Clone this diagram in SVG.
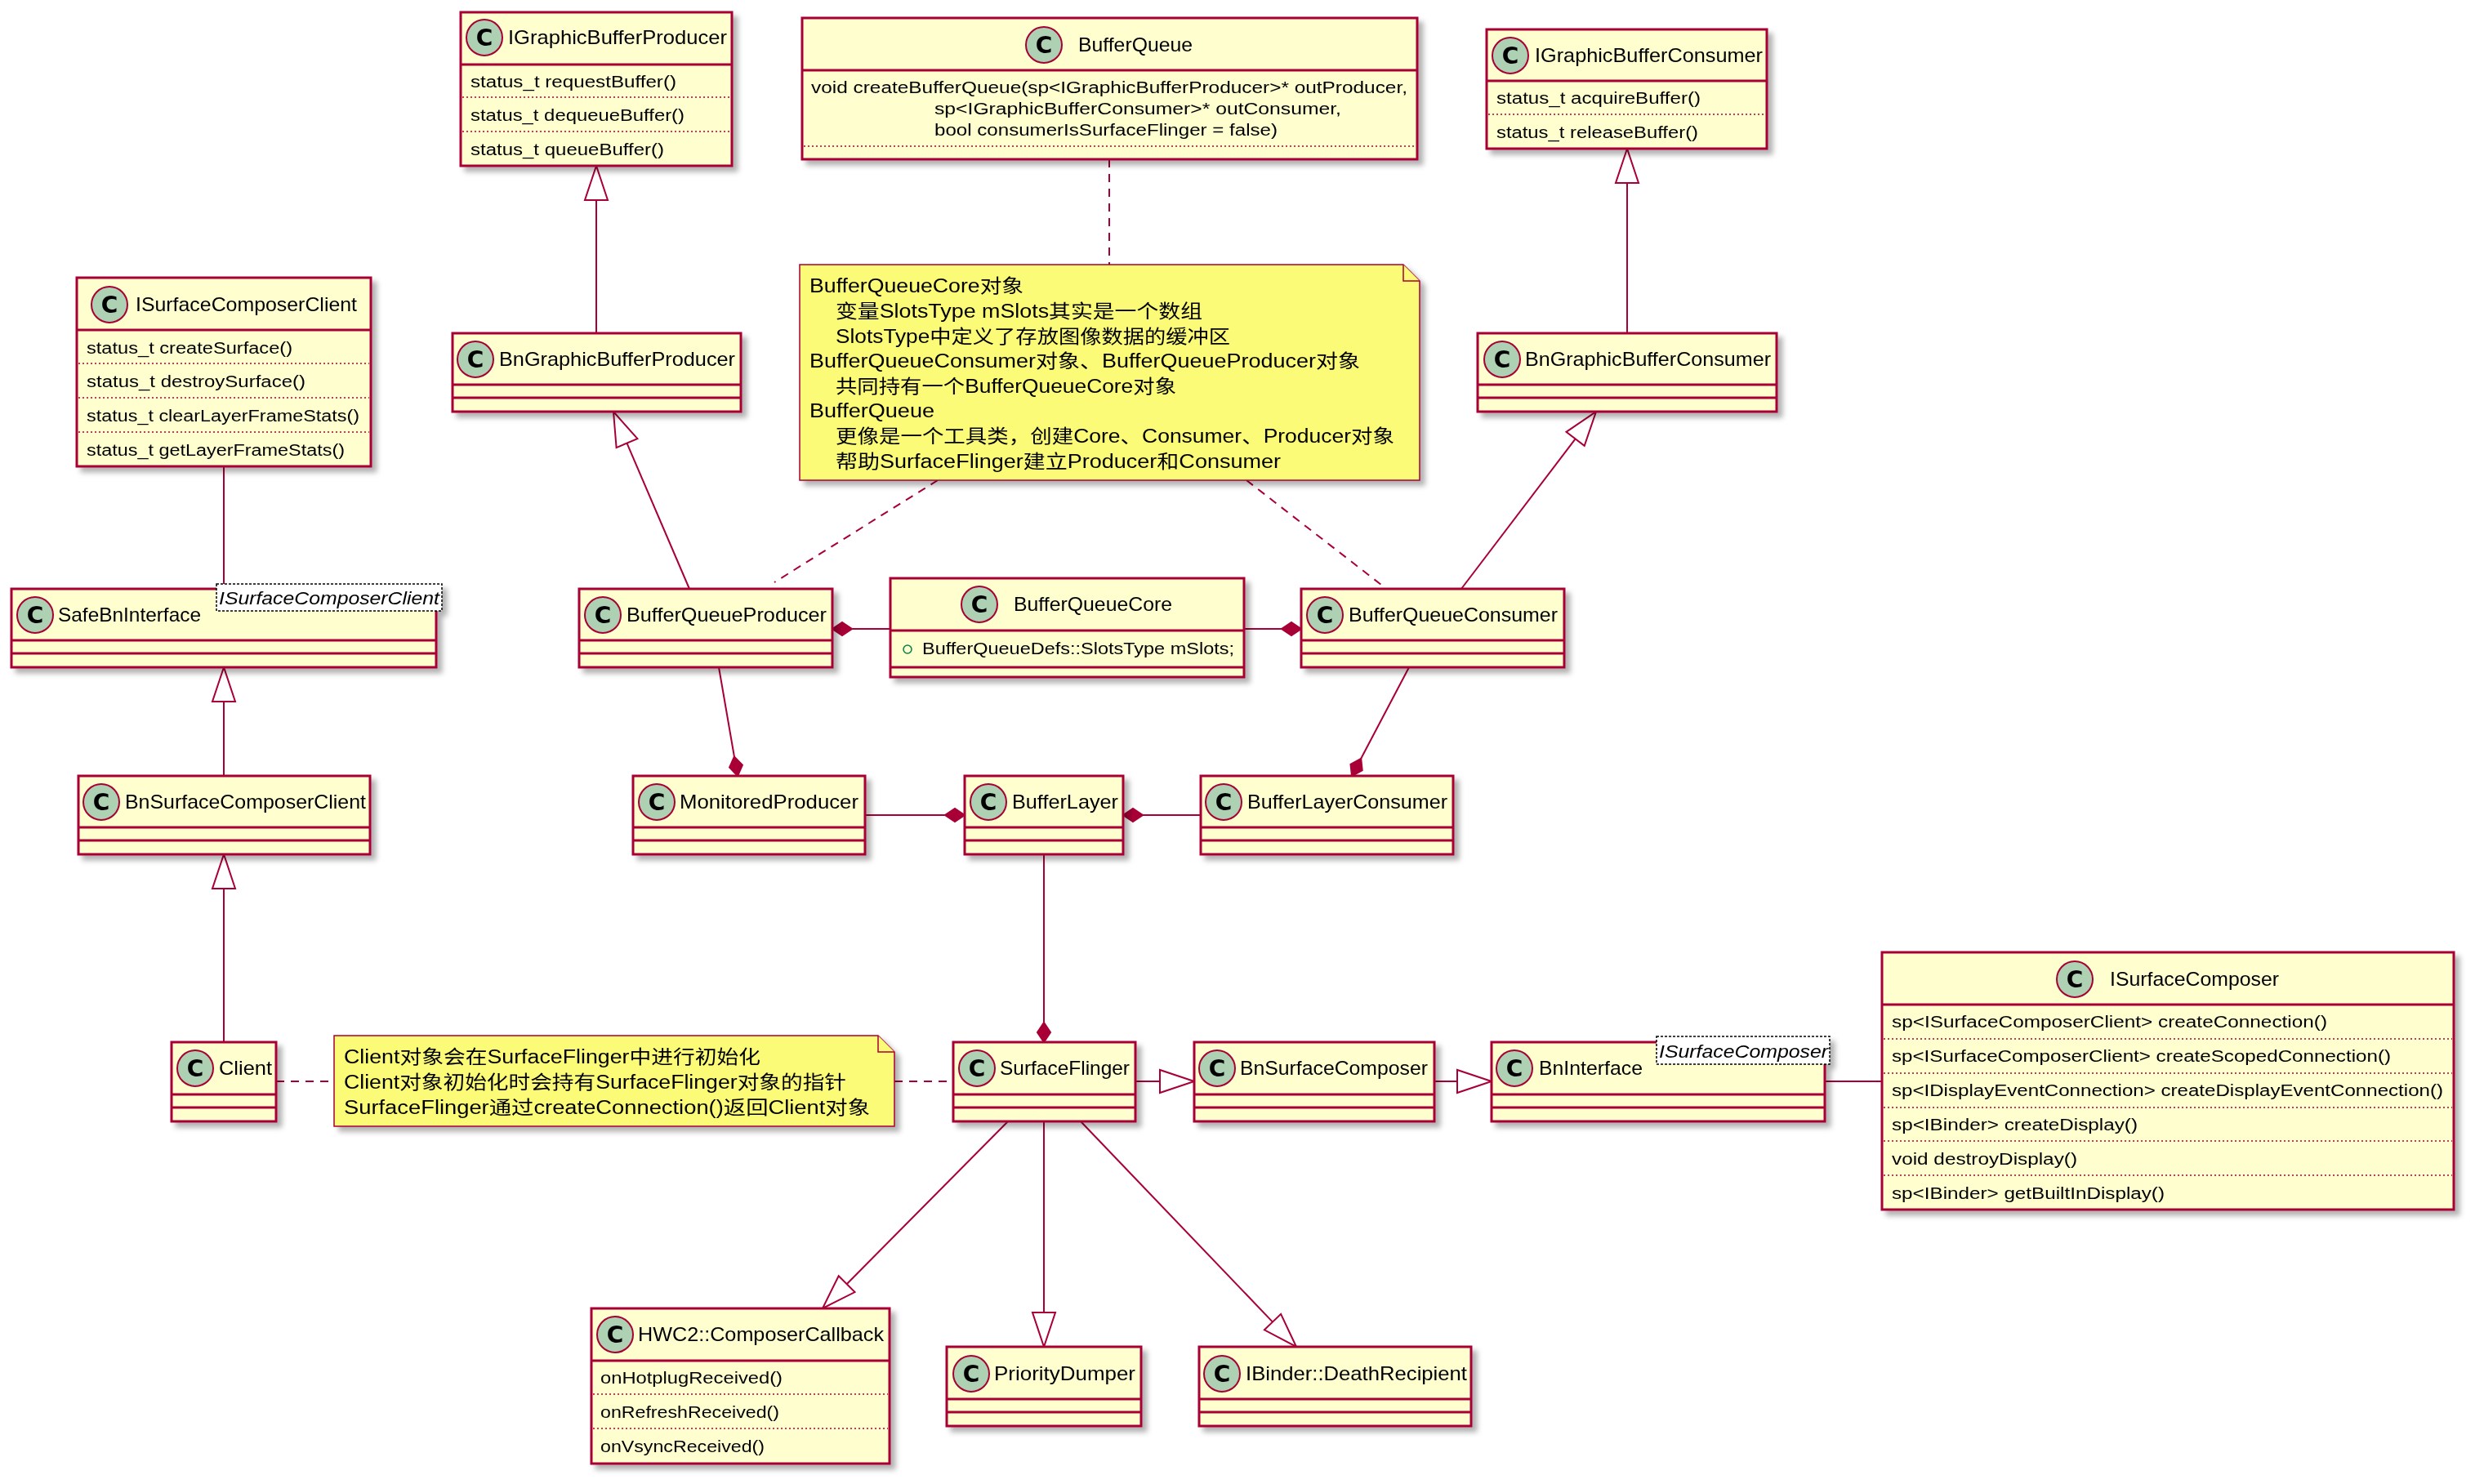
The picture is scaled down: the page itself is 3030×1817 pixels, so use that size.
<svg xmlns="http://www.w3.org/2000/svg" width="3030" height="1817" viewBox="0 0 3030 1817">
<style>
.b{fill:#FEFECE;stroke:#A80036;stroke-width:3}
.s{stroke:#A80036;stroke-width:3;fill:none}
.d{stroke:#A80036;stroke-width:1.5;stroke-dasharray:2 3;fill:none}
.c{fill:#ADD1B2;stroke:#A80036;stroke-width:2}
.cl{font-family:"DejaVu Sans",sans-serif;font-weight:bold;font-size:28px;text-anchor:middle;fill:#000}
.t{font-family:"Liberation Sans","Noto Sans CJK SC",sans-serif;font-size:24px;fill:#000}
.m{font-family:"Liberation Sans","Noto Sans CJK SC",sans-serif;font-size:20px;fill:#000}
.i{font-family:"Liberation Sans",sans-serif;font-style:italic;font-size:22px;fill:#000}
.tp{fill:#fff;stroke:#000;stroke-width:1.5;stroke-dasharray:3 2}
.n{fill:#FBFB77;stroke:#A80036;stroke-width:1.5}
.nt{font-family:"Liberation Sans","Noto Sans CJK SC",sans-serif;font-size:23px;fill:#000}
.l{stroke:#A80036;stroke-width:2;fill:none}
.dl{stroke:#A80036;stroke-width:2;fill:none;stroke-dasharray:10 8}
.tri{fill:#fff;stroke:#A80036;stroke-width:2}
.dia{fill:#A80036;stroke:#A80036;stroke-width:2}
</style>
<defs>
<filter id="sh" x="-5%" y="-5%" width="115%" height="120%"><feDropShadow dx="6" dy="6" stdDeviation="3" flood-color="#000" flood-opacity="0.3"/></filter>
</defs>
<g id="connectors">
<line class="l" x1="274" y1="571" x2="274" y2="715"/>
<line class="l" x1="730" y1="245" x2="730" y2="408"/><polygon class="tri" points="730,203 716,245 744,245"/>
<line class="l" x1="1992" y1="224" x2="1992" y2="408"/><polygon class="tri" points="1992,182 1978,224 2006,224"/>
<line class="l" x1="767.5" y1="542.6" x2="844" y2="721"/><polygon class="tri" points="751,504 754.6,548.1 780.4,537.1"/>
<line class="l" x1="1928.6" y1="537.4" x2="1789" y2="721"/><polygon class="tri" points="1954,504 1939.7,545.9 1917.5,528.9"/>
<line class="l" x1="274" y1="859" x2="274" y2="950"/><polygon class="tri" points="274,817 260,859 288,859"/>
<line class="l" x1="274" y1="1088" x2="274" y2="1276"/><polygon class="tri" points="274,1046 260,1088 288,1088"/>
<line class="l" x1="1390" y1="1324" x2="1420" y2="1324"/><polygon class="tri" points="1462,1324 1420,1310 1420,1338"/>
<line class="l" x1="1755" y1="1324" x2="1784" y2="1324"/><polygon class="tri" points="1826,1324 1784,1310 1784,1338"/>
<line class="l" x1="1234" y1="1373" x2="1036.6" y2="1572.2"/><polygon class="tri" points="1007,1602 1046.5,1582.1 1026.7,1562.3"/>
<line class="l" x1="1278" y1="1373" x2="1278" y2="1607"/><polygon class="tri" points="1278,1649 1264,1607 1292,1607"/>
<line class="l" x1="1323" y1="1373" x2="1558" y2="1618.6"/><polygon class="tri" points="1587,1649 1568.1,1608.9 1547.9,1628.3"/>
<line class="l" x1="1019" y1="770" x2="1090" y2="770"/><polygon class="dia" points="1019,770 1031,762 1043,770 1031,778"/>
<line class="l" x1="1523" y1="770" x2="1593" y2="770"/><polygon class="dia" points="1593,770 1581,762 1569,770 1581,778"/>
<line class="l" x1="880" y1="817" x2="903" y2="950"/><polygon class="dia" points="903,950 908.9,936.8 898.9,926.4 893.1,939.6"/>
<line class="l" x1="1059" y1="998" x2="1181" y2="998"/><polygon class="dia" points="1181,998 1169,990 1157,998 1169,1006"/>
<line class="l" x1="1375" y1="998" x2="1470" y2="998"/><polygon class="dia" points="1375,998 1387,990 1399,998 1387,1006"/>
<line class="l" x1="1725" y1="817" x2="1655" y2="950"/><polygon class="dia" points="1655,950 1667.7,943.1 1666.2,928.8 1653.5,935.7"/>
<line class="l" x1="1278" y1="1046" x2="1278" y2="1276"/><polygon class="dia" points="1278,1276 1270,1264 1278,1252 1286,1264"/>
<line class="l" x1="2234" y1="1324" x2="2304" y2="1324"/>
<line class="dl" x1="1358" y1="195" x2="1358" y2="324"/>
<line class="dl" x1="1148" y1="588" x2="948" y2="713"/>
<line class="dl" x1="1526" y1="588" x2="1691" y2="716"/>
<line class="dl" x1="338" y1="1324" x2="409" y2="1324"/>
<line class="dl" x1="1095" y1="1324" x2="1167" y2="1324"/>
</g>
<g id="IGraphicBufferProducer" filter="url(#sh)">
<rect class="b" x="564" y="15" width="332" height="188"/><line class="s" x1="564" y1="79" x2="896" y2="79"/>
<line class="d" x1="566" y1="119" x2="894" y2="119"/><line class="d" x1="566" y1="161" x2="894" y2="161"/>
<circle class="c" cx="593" cy="46" r="22"/><text class="cl" x="593" y="56">C</text>
<text class="t" x="622" y="54" textLength="268" lengthAdjust="spacingAndGlyphs">IGraphicBufferProducer</text>
<text class="m" x="576" y="107" textLength="252" lengthAdjust="spacingAndGlyphs">status_t requestBuffer()</text>
<text class="m" x="576" y="148" textLength="262" lengthAdjust="spacingAndGlyphs">status_t dequeueBuffer()</text>
<text class="m" x="576" y="190" textLength="237" lengthAdjust="spacingAndGlyphs">status_t queueBuffer()</text>
</g>
<g id="BufferQueue" filter="url(#sh)">
<rect class="b" x="982" y="22" width="753" height="173"/><line class="s" x1="982" y1="86" x2="1735" y2="86"/>
<line class="d" x1="984" y1="179" x2="1733" y2="179"/>
<circle class="c" cx="1278" cy="55" r="22"/><text class="cl" x="1278" y="65">C</text>
<text class="t" x="1320" y="63" textLength="140" lengthAdjust="spacingAndGlyphs">BufferQueue</text>
<text class="m" x="993" y="114" textLength="730" lengthAdjust="spacingAndGlyphs">void createBufferQueue(sp&lt;IGraphicBufferProducer&gt;* outProducer,</text>
<text class="m" x="1144" y="140" textLength="498" lengthAdjust="spacingAndGlyphs">sp&lt;IGraphicBufferConsumer&gt;* outConsumer,</text>
<text class="m" x="1144" y="166" textLength="420" lengthAdjust="spacingAndGlyphs">bool consumerIsSurfaceFlinger = false)</text>
</g>
<g id="IGraphicBufferConsumer" filter="url(#sh)">
<rect class="b" x="1820" y="36" width="343" height="146"/><line class="s" x1="1820" y1="99" x2="2163" y2="99"/>
<line class="d" x1="1822" y1="140" x2="2161" y2="140"/>
<circle class="c" cx="1849" cy="68" r="22"/><text class="cl" x="1849" y="78">C</text>
<text class="t" x="1879" y="76" textLength="279" lengthAdjust="spacingAndGlyphs">IGraphicBufferConsumer</text>
<text class="m" x="1832" y="127" textLength="250" lengthAdjust="spacingAndGlyphs">status_t acquireBuffer()</text>
<text class="m" x="1832" y="169" textLength="247" lengthAdjust="spacingAndGlyphs">status_t releaseBuffer()</text>
</g>
<g id="ISurfaceComposerClient" filter="url(#sh)">
<rect class="b" x="94" y="340" width="360" height="231"/><line class="s" x1="94" y1="404" x2="454" y2="404"/>
<line class="d" x1="96" y1="445" x2="452" y2="445"/><line class="d" x1="96" y1="487" x2="452" y2="487"/><line class="d" x1="96" y1="529" x2="452" y2="529"/>
<circle class="c" cx="134" cy="373" r="22"/><text class="cl" x="134" y="383">C</text>
<text class="t" x="166" y="381" textLength="271" lengthAdjust="spacingAndGlyphs">ISurfaceComposerClient</text>
<text class="m" x="106" y="433" textLength="252" lengthAdjust="spacingAndGlyphs">status_t createSurface()</text>
<text class="m" x="106" y="474" textLength="268" lengthAdjust="spacingAndGlyphs">status_t destroySurface()</text>
<text class="m" x="106" y="516" textLength="334" lengthAdjust="spacingAndGlyphs">status_t clearLayerFrameStats()</text>
<text class="m" x="106" y="558" textLength="316" lengthAdjust="spacingAndGlyphs">status_t getLayerFrameStats()</text>
</g>
<g id="BnGraphicBufferProducer" filter="url(#sh)">
<rect class="b" x="554" y="408" width="353" height="96"/><line class="s" x1="554" y1="471" x2="907" y2="471"/><line class="s" x1="554" y1="487" x2="907" y2="487"/>
<circle class="c" cx="582" cy="440" r="22"/><text class="cl" x="582" y="450">C</text>
<text class="t" x="611" y="448" textLength="289" lengthAdjust="spacingAndGlyphs">BnGraphicBufferProducer</text>
</g>
<g id="BnGraphicBufferConsumer" filter="url(#sh)">
<rect class="b" x="1809" y="408" width="366" height="96"/><line class="s" x1="1809" y1="471" x2="2175" y2="471"/><line class="s" x1="1809" y1="487" x2="2175" y2="487"/>
<circle class="c" cx="1839" cy="440" r="22"/><text class="cl" x="1839" y="450">C</text>
<text class="t" x="1867" y="448" textLength="301" lengthAdjust="spacingAndGlyphs">BnGraphicBufferConsumer</text>
</g>
<g id="note1" filter="url(#sh)">
<path class="n" d="M979,324 H1718 L1738,344 V588 H979 Z"/><path class="n" d="M1718,324 V344 H1738"/>
<text class="nt" x="991" y="358" textLength="262" lengthAdjust="spacingAndGlyphs">BufferQueueCore对象</text>
<text class="nt" x="1023" y="389" textLength="449" lengthAdjust="spacingAndGlyphs">变量SlotsType mSlots其实是一个数组</text>
<text class="nt" x="1023" y="420" textLength="483" lengthAdjust="spacingAndGlyphs">SlotsType中定义了存放图像数据的缓冲区</text>
<text class="nt" x="991" y="450" textLength="674" lengthAdjust="spacingAndGlyphs">BufferQueueConsumer对象、BufferQueueProducer对象</text>
<text class="nt" x="1023" y="481" textLength="417" lengthAdjust="spacingAndGlyphs">共同持有一个BufferQueueCore对象</text>
<text class="nt" x="991" y="511" textLength="153" lengthAdjust="spacingAndGlyphs">BufferQueue</text>
<text class="nt" x="1023" y="542" textLength="684" lengthAdjust="spacingAndGlyphs">更像是一个工具类，创建Core、Consumer、Producer对象</text>
<text class="nt" x="1023" y="573" textLength="545" lengthAdjust="spacingAndGlyphs">帮助SurfaceFlinger建立Producer和Consumer</text>
</g>
<g id="SafeBnInterface" filter="url(#sh)">
<rect class="b" x="14" y="721" width="520" height="96"/><line class="s" x1="14" y1="784" x2="534" y2="784"/><line class="s" x1="14" y1="800" x2="534" y2="800"/>
<circle class="c" cx="43" cy="753" r="22"/><text class="cl" x="43" y="763">C</text>
<text class="t" x="71" y="761" textLength="175" lengthAdjust="spacingAndGlyphs">SafeBnInterface</text>
<rect class="tp" x="265" y="715" width="276" height="33"/>
<text class="i" x="268" y="740" textLength="270" lengthAdjust="spacingAndGlyphs">ISurfaceComposerClient</text>
</g>
<g id="BufferQueueProducer" filter="url(#sh)">
<rect class="b" x="709" y="721" width="310" height="96"/><line class="s" x1="709" y1="784" x2="1019" y2="784"/><line class="s" x1="709" y1="800" x2="1019" y2="800"/>
<circle class="c" cx="738" cy="753" r="22"/><text class="cl" x="738" y="763">C</text>
<text class="t" x="767" y="761" textLength="245" lengthAdjust="spacingAndGlyphs">BufferQueueProducer</text>
</g>
<g id="BufferQueueCore" filter="url(#sh)">
<rect class="b" x="1090" y="708" width="433" height="121"/><line class="s" x1="1090" y1="772" x2="1523" y2="772"/><line class="s" x1="1090" y1="817" x2="1523" y2="817"/>
<circle class="c" cx="1199" cy="740" r="22"/><text class="cl" x="1199" y="750">C</text>
<text class="t" x="1241" y="748" textLength="194" lengthAdjust="spacingAndGlyphs">BufferQueueCore</text>
<circle cx="1111" cy="795" r="5" fill="none" stroke="#038048" stroke-width="1.5"/>
<text class="m" x="1129" y="801" textLength="382" lengthAdjust="spacingAndGlyphs">BufferQueueDefs::SlotsType mSlots;</text>
</g>
<g id="BufferQueueConsumer" filter="url(#sh)">
<rect class="b" x="1593" y="721" width="322" height="96"/><line class="s" x1="1593" y1="784" x2="1915" y2="784"/><line class="s" x1="1593" y1="800" x2="1915" y2="800"/>
<circle class="c" cx="1622" cy="753" r="22"/><text class="cl" x="1622" y="763">C</text>
<text class="t" x="1651" y="761" textLength="256" lengthAdjust="spacingAndGlyphs">BufferQueueConsumer</text>
</g>
<g id="BnSurfaceComposerClient" filter="url(#sh)">
<rect class="b" x="96" y="950" width="357" height="96"/><line class="s" x1="96" y1="1013" x2="453" y2="1013"/><line class="s" x1="96" y1="1029" x2="453" y2="1029"/>
<circle class="c" cx="124" cy="982" r="22"/><text class="cl" x="124" y="992">C</text>
<text class="t" x="153" y="990" textLength="295" lengthAdjust="spacingAndGlyphs">BnSurfaceComposerClient</text>
</g>
<g id="MonitoredProducer" filter="url(#sh)">
<rect class="b" x="775" y="950" width="284" height="96"/><line class="s" x1="775" y1="1013" x2="1059" y2="1013"/><line class="s" x1="775" y1="1029" x2="1059" y2="1029"/>
<circle class="c" cx="804" cy="982" r="22"/><text class="cl" x="804" y="992">C</text>
<text class="t" x="832" y="990" textLength="219" lengthAdjust="spacingAndGlyphs">MonitoredProducer</text>
</g>
<g id="BufferLayer" filter="url(#sh)">
<rect class="b" x="1181" y="950" width="194" height="96"/><line class="s" x1="1181" y1="1013" x2="1375" y2="1013"/><line class="s" x1="1181" y1="1029" x2="1375" y2="1029"/>
<circle class="c" cx="1210" cy="982" r="22"/><text class="cl" x="1210" y="992">C</text>
<text class="t" x="1239" y="990" textLength="130" lengthAdjust="spacingAndGlyphs">BufferLayer</text>
</g>
<g id="BufferLayerConsumer" filter="url(#sh)">
<rect class="b" x="1470" y="950" width="309" height="96"/><line class="s" x1="1470" y1="1013" x2="1779" y2="1013"/><line class="s" x1="1470" y1="1029" x2="1779" y2="1029"/>
<circle class="c" cx="1498" cy="982" r="22"/><text class="cl" x="1498" y="992">C</text>
<text class="t" x="1527" y="990" textLength="245" lengthAdjust="spacingAndGlyphs">BufferLayerConsumer</text>
</g>
<g id="Client" filter="url(#sh)">
<rect class="b" x="210" y="1276" width="128" height="97"/><line class="s" x1="210" y1="1340" x2="338" y2="1340"/><line class="s" x1="210" y1="1356" x2="338" y2="1356"/>
<circle class="c" cx="239" cy="1308" r="22"/><text class="cl" x="239" y="1318">C</text>
<text class="t" x="268" y="1316" textLength="65" lengthAdjust="spacingAndGlyphs">Client</text>
</g>
<g id="note2" filter="url(#sh)">
<path class="n" d="M409,1268 H1075 L1095,1288 V1379 H409 Z"/><path class="n" d="M1075,1268 V1288 H1095"/>
<text class="nt" x="421" y="1302" textLength="510" lengthAdjust="spacingAndGlyphs">Client对象会在SurfaceFlinger中进行初始化</text>
<text class="nt" x="421" y="1333" textLength="615" lengthAdjust="spacingAndGlyphs">Client对象初始化时会持有SurfaceFlinger对象的指针</text>
<text class="nt" x="421" y="1364" textLength="644" lengthAdjust="spacingAndGlyphs">SurfaceFlinger通过createConnection()返回Client对象</text>
</g>
<g id="SurfaceFlinger" filter="url(#sh)">
<rect class="b" x="1167" y="1276" width="223" height="97"/><line class="s" x1="1167" y1="1340" x2="1390" y2="1340"/><line class="s" x1="1167" y1="1356" x2="1390" y2="1356"/>
<circle class="c" cx="1196" cy="1308" r="22"/><text class="cl" x="1196" y="1318">C</text>
<text class="t" x="1224" y="1316" textLength="159" lengthAdjust="spacingAndGlyphs">SurfaceFlinger</text>
</g>
<g id="BnSurfaceComposer" filter="url(#sh)">
<rect class="b" x="1462" y="1276" width="294" height="97"/><line class="s" x1="1462" y1="1340" x2="1756" y2="1340"/><line class="s" x1="1462" y1="1356" x2="1756" y2="1356"/>
<circle class="c" cx="1490" cy="1308" r="22"/><text class="cl" x="1490" y="1318">C</text>
<text class="t" x="1518" y="1316" textLength="230" lengthAdjust="spacingAndGlyphs">BnSurfaceComposer</text>
</g>
<g id="BnInterface" filter="url(#sh)">
<rect class="b" x="1826" y="1276" width="408" height="97"/><line class="s" x1="1826" y1="1340" x2="2234" y2="1340"/><line class="s" x1="1826" y1="1356" x2="2234" y2="1356"/>
<circle class="c" cx="1854" cy="1308" r="22"/><text class="cl" x="1854" y="1318">C</text>
<text class="t" x="1884" y="1316" textLength="127" lengthAdjust="spacingAndGlyphs">BnInterface</text>
<rect class="tp" x="2028" y="1269" width="212" height="34"/>
<text class="i" x="2031" y="1295" textLength="207" lengthAdjust="spacingAndGlyphs">ISurfaceComposer</text>
</g>
<g id="ISurfaceComposer" filter="url(#sh)">
<rect class="b" x="2304" y="1166" width="700" height="315"/><line class="s" x1="2304" y1="1230" x2="3004" y2="1230"/>
<line class="d" x1="2306" y1="1272" x2="3002" y2="1272"/><line class="d" x1="2306" y1="1314" x2="3002" y2="1314"/><line class="d" x1="2306" y1="1356" x2="3002" y2="1356"/><line class="d" x1="2306" y1="1397" x2="3002" y2="1397"/><line class="d" x1="2306" y1="1439" x2="3002" y2="1439"/>
<circle class="c" cx="2540" cy="1199" r="22"/><text class="cl" x="2540" y="1209">C</text>
<text class="t" x="2583" y="1207" textLength="207" lengthAdjust="spacingAndGlyphs">ISurfaceComposer</text>
<text class="m" x="2316" y="1258" textLength="533" lengthAdjust="spacingAndGlyphs">sp&lt;ISurfaceComposerClient&gt; createConnection()</text>
<text class="m" x="2316" y="1300" textLength="611" lengthAdjust="spacingAndGlyphs">sp&lt;ISurfaceComposerClient&gt; createScopedConnection()</text>
<text class="m" x="2316" y="1342" textLength="675" lengthAdjust="spacingAndGlyphs">sp&lt;IDisplayEventConnection&gt; createDisplayEventConnection()</text>
<text class="m" x="2316" y="1384" textLength="301" lengthAdjust="spacingAndGlyphs">sp&lt;IBinder&gt; createDisplay()</text>
<text class="m" x="2316" y="1426" textLength="227" lengthAdjust="spacingAndGlyphs">void destroyDisplay()</text>
<text class="m" x="2316" y="1468" textLength="334" lengthAdjust="spacingAndGlyphs">sp&lt;IBinder&gt; getBuiltInDisplay()</text>
</g>
<g id="HWC2ComposerCallback" filter="url(#sh)">
<rect class="b" x="724" y="1602" width="365" height="190"/><line class="s" x1="724" y1="1666" x2="1089" y2="1666"/>
<line class="d" x1="726" y1="1707" x2="1087" y2="1707"/><line class="d" x1="726" y1="1749" x2="1087" y2="1749"/>
<circle class="c" cx="753" cy="1634" r="22"/><text class="cl" x="753" y="1644">C</text>
<text class="t" x="781" y="1642" textLength="301" lengthAdjust="spacingAndGlyphs">HWC2::ComposerCallback</text>
<text class="m" x="735" y="1694" textLength="223" lengthAdjust="spacingAndGlyphs">onHotplugReceived()</text>
<text class="m" x="735" y="1736" textLength="219" lengthAdjust="spacingAndGlyphs">onRefreshReceived()</text>
<text class="m" x="735" y="1778" textLength="201" lengthAdjust="spacingAndGlyphs">onVsyncReceived()</text>
</g>
<g id="PriorityDumper" filter="url(#sh)">
<rect class="b" x="1159" y="1649" width="238" height="97"/><line class="s" x1="1159" y1="1713" x2="1397" y2="1713"/><line class="s" x1="1159" y1="1729" x2="1397" y2="1729"/>
<circle class="c" cx="1189" cy="1682" r="22"/><text class="cl" x="1189" y="1692">C</text>
<text class="t" x="1217" y="1690" textLength="173" lengthAdjust="spacingAndGlyphs">PriorityDumper</text>
</g>
<g id="IBinderDeathRecipient" filter="url(#sh)">
<rect class="b" x="1468" y="1649" width="333" height="97"/><line class="s" x1="1468" y1="1713" x2="1801" y2="1713"/><line class="s" x1="1468" y1="1729" x2="1801" y2="1729"/>
<circle class="c" cx="1496" cy="1682" r="22"/><text class="cl" x="1496" y="1692">C</text>
<text class="t" x="1525" y="1690" textLength="271" lengthAdjust="spacingAndGlyphs">IBinder::DeathRecipient</text>
</g>
</svg>
